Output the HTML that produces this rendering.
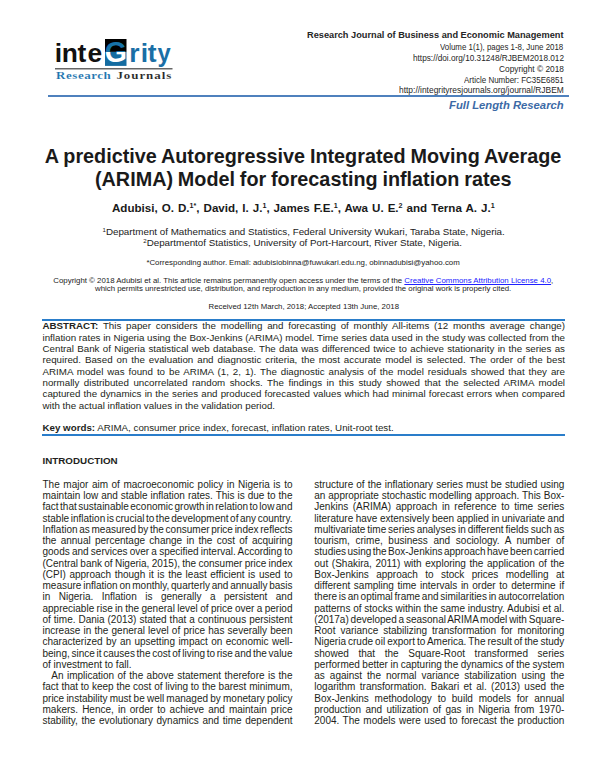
<!DOCTYPE html>
<html><head><meta charset="utf-8"><title>ARIMA inflation paper</title>
<style>
html,body{margin:0;padding:0;background:#fff;}
body{width:600px;height:776px;position:relative;overflow:hidden;font-family:"Liberation Sans", sans-serif;}
.l{position:absolute;white-space:nowrap;line-height:1;}
.l sup{font-size:0.62em;line-height:0;vertical-align:0.5em;}
.lk{color:#2020ff;text-decoration:underline;}
</style></head><body>
<div class="l" style="left:307.00px;top:30.44px;font-size:9.4px;color:#262626;font-weight:bold;width:256.50px;transform:scaleX(0.9827);transform-origin:0 0;">Research Journal of Business and Economic Management</div>
<div class="l" style="left:440.30px;top:43.02px;font-size:8.6px;color:#262626;width:123.20px;transform:scaleX(0.9177);transform-origin:0 0;">Volume 1(1), pages 1-8, June 2018</div>
<div class="l" style="left:412.50px;top:53.52px;font-size:8.6px;color:#262626;width:151.00px;transform:scaleX(0.9577);transform-origin:0 0;">https://doi.org/10.31248/RJBEM2018.012</div>
<div class="l" style="left:498.50px;top:64.62px;font-size:8.6px;color:#262626;width:65.00px;transform:scaleX(0.9699);transform-origin:0 0;">Copyright &copy; 2018</div>
<div class="l" style="left:463.70px;top:75.62px;font-size:8.6px;color:#262626;width:99.80px;transform:scaleX(0.9286);transform-origin:0 0;">Article Number: FC35E6851</div>
<div class="l" style="left:398.70px;top:85.82px;font-size:8.6px;color:#262626;width:164.80px;transform:scaleX(0.9801);transform-origin:0 0;">http://integrityresjournals.org/journal/RJBEM</div>
<div style="position:absolute;left:47.5px;top:95.2px;width:521px;height:1.5px;background:#4f81bd"></div>
<div class="l" style="left:449.30px;top:99.52px;font-size:11.2px;color:#3c6aa6;font-weight:bold;font-style:italic;width:114.70px;transform:scaleX(1.0082);transform-origin:0 0;">Full Length Research</div>
<div class="l" style="left:44.80px;top:147.24px;font-size:19.8px;color:#1a1a1a;font-weight:bold;width:516.50px;text-align:justify;text-align-last:justify;word-spacing:-0.604px;">A predictive Autoregressive Integrated Moving Average</div>
<div class="l" style="left:95.00px;top:169.84px;font-size:19.8px;color:#1a1a1a;font-weight:bold;width:416.50px;text-align:justify;text-align-last:justify;word-spacing:-0.726px;">(ARIMA) Model for forecasting inflation rates</div>
<div class="l" style="left:112.00px;top:202.18px;font-size:11.6px;color:#1a1a1a;font-weight:bold;width:382.70px;text-align:justify;text-align-last:justify;">Adubisi, O. D.<sup>1*</sup>, David, I. J.<sup>1</sup>, James F.E.<sup>1</sup>, Awa U. E.<sup>2</sup> and Terna A. J.<sup>1</sup></div>
<div class="l" style="left:102.50px;top:227.20px;font-size:9.8px;color:#222;width:402.25px;text-align:justify;text-align-last:justify;word-spacing:-0.019px;"><sup>1</sup>Department of Mathematics and Statistics, Federal University Wukari, Taraba State, Nigeria.</div>
<div class="l" style="left:143.25px;top:238.00px;font-size:9.8px;color:#222;width:318.75px;text-align:justify;text-align-last:justify;word-spacing:-0.025px;"><sup>2</sup>Departmentof Statistics, University of Port-Harcourt, River State, Nigeria.</div>
<div class="l" style="left:146.40px;top:258.85px;font-size:7.86px;color:#222;width:313.35px;text-align:justify;text-align-last:justify;word-spacing:-0.222px;">*Corresponding author. Email: adubisiobinna@fuwukari.edu.ng, obinnadubisi@yahoo.com</div>
<div class="l" style="left:53.30px;top:276.64px;font-size:7.87px;color:#222;width:500.00px;text-align:justify;text-align-last:justify;word-spacing:-0.023px;">Copyright &copy; 2018 Adubisi et al. This article remains permanently open access under the terms of the <span class="lk">Creative Commons Attribution License 4.0</span>,</div>
<div class="l" style="left:95.00px;top:285.07px;font-size:7.83px;color:#222;width:416.30px;text-align:justify;text-align-last:justify;word-spacing:-0.053px;">which permits unrestricted use, distribution, and reproduction in any medium, provided the original work is properly cited.</div>
<div class="l" style="left:208.50px;top:302.98px;font-size:7.82px;color:#222;width:190.50px;text-align:justify;text-align-last:justify;">Received 12th March, 2018; Accepted 13th June, 2018</div>
<div style="position:absolute;left:42px;top:319.4px;width:523px;height:1.8px;background:#2a7dca"></div>
<div class="l" style="left:42.50px;top:321.25px;font-size:9.75px;color:#231f20;width:522.50px;text-align:justify;text-align-last:justify;"><b>ABSTRACT:</b> This paper considers the modelling and forecasting of monthly All-items (12 months average change)</div>
<div class="l" style="left:42.50px;top:332.59px;font-size:9.75px;color:#231f20;width:522.50px;text-align:justify;text-align-last:justify;word-spacing:-0.011px;">inflation rates in Nigeria using the Box-Jenkins (ARIMA) model. Time series data used in the study was collected from the</div>
<div class="l" style="left:42.50px;top:343.93px;font-size:9.75px;color:#231f20;width:522.50px;text-align:justify;text-align-last:justify;">Central Bank of Nigeria statistical web database. The data was differenced twice to achieve stationarity in the series as</div>
<div class="l" style="left:42.50px;top:355.27px;font-size:9.75px;color:#231f20;width:522.50px;text-align:justify;text-align-last:justify;">required. Based on the evaluation and diagnostic criteria, the most accurate model is selected. The order of the best</div>
<div class="l" style="left:42.50px;top:366.61px;font-size:9.75px;color:#231f20;width:522.50px;text-align:justify;text-align-last:justify;">ARIMA model was found to be ARIMA (1, 2, 1). The diagnostic analysis of the model residuals showed that they are</div>
<div class="l" style="left:42.50px;top:377.95px;font-size:9.75px;color:#231f20;width:522.50px;text-align:justify;text-align-last:justify;">normally distributed uncorrelated random shocks. The findings in this study showed that the selected ARIMA model</div>
<div class="l" style="left:42.50px;top:389.29px;font-size:9.75px;color:#231f20;width:522.50px;text-align:justify;text-align-last:justify;">captured the dynamics in the series and produced forecasted values which had minimal forecast errors when compared</div>
<div class="l" style="left:42.50px;top:400.63px;font-size:9.75px;color:#231f20;">with the actual inflation values in the validation period.</div>
<div class="l" style="left:42.50px;top:422.95px;font-size:9.75px;color:#231f20;"><b>Key words:</b> ARIMA, consumer price index, forecast, inflation rates, Unit-root test.</div>
<div style="position:absolute;left:42px;top:434.4px;width:523px;height:1.9px;background:#2a7dca"></div>
<div class="l" style="left:42.50px;top:455.70px;font-size:9.8px;color:#231f20;font-weight:bold;">INTRODUCTION</div>
<div class="l" style="left:42.50px;top:479.94px;font-size:10px;color:#231f20;width:250.00px;text-align:justify;text-align-last:justify;">The major aim of macroeconomic policy in Nigeria is to</div>
<div class="l" style="left:42.50px;top:491.19px;font-size:10px;color:#231f20;width:250.00px;text-align:justify;text-align-last:justify;">maintain low and stable inflation rates. This is due to the</div>
<div class="l" style="left:42.50px;top:502.44px;font-size:10px;color:#231f20;width:250.00px;text-align:justify;text-align-last:justify;word-spacing:-1.348px;">fact that sustainable economic growth in relation to low and</div>
<div class="l" style="left:42.50px;top:513.68px;font-size:10px;color:#231f20;width:250.00px;text-align:justify;text-align-last:justify;word-spacing:-1.264px;">stable inflation is crucial to the development of any country.</div>
<div class="l" style="left:42.50px;top:524.93px;font-size:10px;color:#231f20;width:250.00px;text-align:justify;text-align-last:justify;word-spacing:-1.096px;">Inflation as measured by the consumer price index reflects</div>
<div class="l" style="left:42.50px;top:536.18px;font-size:10px;color:#231f20;width:250.00px;text-align:justify;text-align-last:justify;">the annual percentage change in the cost of acquiring</div>
<div class="l" style="left:42.50px;top:547.43px;font-size:10px;color:#231f20;width:250.00px;text-align:justify;text-align-last:justify;word-spacing:-0.612px;">goods and services over a specified interval. According to</div>
<div class="l" style="left:42.50px;top:558.68px;font-size:10px;color:#231f20;width:250.00px;text-align:justify;text-align-last:justify;word-spacing:-0.541px;">(Central bank of Nigeria, 2015), the consumer price index</div>
<div class="l" style="left:42.50px;top:569.93px;font-size:10px;color:#231f20;width:250.00px;text-align:justify;text-align-last:justify;">(CPI) approach though it is the least efficient is used to</div>
<div class="l" style="left:42.50px;top:581.18px;font-size:10px;color:#231f20;width:250.00px;text-align:justify;text-align-last:justify;word-spacing:-1.070px;">measure inflation on monthly, quarterly and annually basis</div>
<div class="l" style="left:42.50px;top:592.43px;font-size:10px;color:#231f20;width:250.00px;text-align:justify;text-align-last:justify;">in Nigeria. Inflation is generally a persistent and</div>
<div class="l" style="left:42.50px;top:603.68px;font-size:10px;color:#231f20;width:250.00px;text-align:justify;text-align-last:justify;word-spacing:-0.435px;">appreciable rise in the general level of price over a period</div>
<div class="l" style="left:42.50px;top:614.93px;font-size:10px;color:#231f20;width:250.00px;text-align:justify;text-align-last:justify;">of time. Dania (2013) stated that a continuous persistent</div>
<div class="l" style="left:42.50px;top:626.18px;font-size:10px;color:#231f20;width:250.00px;text-align:justify;text-align-last:justify;">increase in the general level of price has severally been</div>
<div class="l" style="left:42.50px;top:637.43px;font-size:10px;color:#231f20;width:250.00px;text-align:justify;text-align-last:justify;">characterized by an upsetting impact on economic well-</div>
<div class="l" style="left:42.50px;top:648.68px;font-size:10px;color:#231f20;width:250.00px;text-align:justify;text-align-last:justify;word-spacing:-1.103px;">being, since it causes the cost of living to rise and the value</div>
<div class="l" style="left:42.50px;top:659.93px;font-size:10px;color:#231f20;">of investment to fall.</div>
<div class="l" style="left:51.30px;top:671.18px;font-size:10px;color:#231f20;width:241.20px;text-align:justify;text-align-last:justify;">An implication of the above statement therefore is the</div>
<div class="l" style="left:42.50px;top:682.43px;font-size:10px;color:#231f20;width:250.00px;text-align:justify;text-align-last:justify;word-spacing:-0.039px;">fact that to keep the cost of living to the barest minimum,</div>
<div class="l" style="left:42.50px;top:693.68px;font-size:10px;color:#231f20;width:250.00px;text-align:justify;text-align-last:justify;word-spacing:-0.608px;">price instability must be well managed by monetary policy</div>
<div class="l" style="left:42.50px;top:704.93px;font-size:10px;color:#231f20;width:250.00px;text-align:justify;text-align-last:justify;">makers. Hence, in order to achieve and maintain price</div>
<div class="l" style="left:42.50px;top:716.18px;font-size:10px;color:#231f20;width:250.00px;text-align:justify;text-align-last:justify;">stability, the evolutionary dynamics and time dependent</div>
<div class="l" style="left:314.30px;top:479.94px;font-size:10px;color:#231f20;width:250.00px;text-align:justify;text-align-last:justify;">structure of the inflationary series must be studied using</div>
<div class="l" style="left:314.30px;top:491.19px;font-size:10px;color:#231f20;width:250.00px;text-align:justify;text-align-last:justify;">an appropriate stochastic modelling approach. This Box-</div>
<div class="l" style="left:314.30px;top:502.44px;font-size:10px;color:#231f20;width:250.00px;text-align:justify;text-align-last:justify;">Jenkins (ARIMA) approach in reference to time series</div>
<div class="l" style="left:314.30px;top:513.68px;font-size:10px;color:#231f20;width:250.00px;text-align:justify;text-align-last:justify;word-spacing:-0.306px;">literature have extensively been applied in univariate and</div>
<div class="l" style="left:314.30px;top:524.93px;font-size:10px;color:#231f20;width:250.00px;text-align:justify;text-align-last:justify;word-spacing:-0.932px;">multivariate time series analyses in different fields such as</div>
<div class="l" style="left:314.30px;top:536.18px;font-size:10px;color:#231f20;width:250.00px;text-align:justify;text-align-last:justify;">tourism, crime, business and sociology. A number of</div>
<div class="l" style="left:314.30px;top:547.43px;font-size:10px;color:#231f20;width:250.00px;text-align:justify;text-align-last:justify;word-spacing:-1.416px;">studies using the Box-Jenkins approach have been carried</div>
<div class="l" style="left:314.30px;top:558.68px;font-size:10px;color:#231f20;width:250.00px;text-align:justify;text-align-last:justify;">out (Shakira, 2011) with exploring the application of the</div>
<div class="l" style="left:314.30px;top:569.93px;font-size:10px;color:#231f20;width:250.00px;text-align:justify;text-align-last:justify;">Box-Jenkins approach to stock prices modelling at</div>
<div class="l" style="left:314.30px;top:581.18px;font-size:10px;color:#231f20;width:250.00px;text-align:justify;text-align-last:justify;">different sampling time intervals in order to determine if</div>
<div class="l" style="left:314.30px;top:592.43px;font-size:10px;color:#231f20;width:250.00px;text-align:justify;text-align-last:justify;word-spacing:-1.094px;">there is an optimal frame and similarities in autocorrelation</div>
<div class="l" style="left:314.30px;top:603.68px;font-size:10px;color:#231f20;width:250.00px;text-align:justify;text-align-last:justify;word-spacing:-0.026px;">patterns of stocks within the same industry. Adubisi et al.</div>
<div class="l" style="left:314.30px;top:614.93px;font-size:10px;color:#231f20;width:250.00px;text-align:justify;text-align-last:justify;word-spacing:-1.018px;">(2017a) developed a seasonal ARIMA model with Square-</div>
<div class="l" style="left:314.30px;top:626.18px;font-size:10px;color:#231f20;width:250.00px;text-align:justify;text-align-last:justify;">Root variance stabilizing transformation for monitoring</div>
<div class="l" style="left:314.30px;top:637.43px;font-size:10px;color:#231f20;width:250.00px;text-align:justify;text-align-last:justify;word-spacing:-0.747px;">Nigeria crude oil export to America. The result of the study</div>
<div class="l" style="left:314.30px;top:648.68px;font-size:10px;color:#231f20;width:250.00px;text-align:justify;text-align-last:justify;">showed that the Square-Root transformed series</div>
<div class="l" style="left:314.30px;top:659.93px;font-size:10px;color:#231f20;width:250.00px;text-align:justify;text-align-last:justify;word-spacing:-0.330px;">performed better in capturing the dynamics of the system</div>
<div class="l" style="left:314.30px;top:671.18px;font-size:10px;color:#231f20;width:250.00px;text-align:justify;text-align-last:justify;">as against the normal variance stabilization using the</div>
<div class="l" style="left:314.30px;top:682.43px;font-size:10px;color:#231f20;width:250.00px;text-align:justify;text-align-last:justify;">logarithm transformation. Bakari et al. (2013) used the</div>
<div class="l" style="left:314.30px;top:693.68px;font-size:10px;color:#231f20;width:250.00px;text-align:justify;text-align-last:justify;">Box-Jenkins methodology to build models for annual</div>
<div class="l" style="left:314.30px;top:704.93px;font-size:10px;color:#231f20;width:250.00px;text-align:justify;text-align-last:justify;">production and utilization of gas in Nigeria from 1970-</div>
<div class="l" style="left:314.30px;top:716.18px;font-size:10px;color:#231f20;width:250.00px;text-align:justify;text-align-last:justify;">2004. The models were used to forecast the production</div>
<svg style="position:absolute;left:0;top:0" width="200" height="90" viewBox="0 0 200 90">
<defs><clipPath id="ct"><rect x="100" y="30" width="40" height="21.9"/></clipPath>
<clipPath id="cb"><rect x="100" y="51.9" width="40" height="20"/></clipPath></defs>
<g font-family="Liberation Sans" font-weight="bold" font-size="26.4">
<text y="62.1" fill="#111"><tspan x="54.66">i</tspan><tspan x="61.86">n</tspan><tspan x="77.43">t</tspan><tspan x="87.57">e</tspan></text>
<text y="62.1" fill="#1a6fa6"><tspan x="129.26">r</tspan><tspan x="140.86">i</tspan><tspan x="147.68">t</tspan></text>
<text transform="translate(157.5,62.1) scale(0.9,1)" x="0" y="0" fill="#1a6fa6">y</text>
</g>
<rect x="105" y="39" width="21.5" height="12.9" fill="#000"/>
<rect x="105" y="51.9" width="21.5" height="14" fill="#146ca1"/>
<g clip-path="url(#ct)"><text transform="translate(104.8,62.3) scale(0.97,1)" x="0" y="0" font-family="Liberation Sans" font-weight="bold" font-size="29.4" fill="#1772a8">G</text></g>
<g clip-path="url(#cb)"><text transform="translate(104.8,62.3) scale(0.97,1)" x="0" y="0" font-family="Liberation Sans" font-weight="bold" font-size="29.4" fill="#fff">G</text></g>
<rect x="55" y="68" width="117.5" height="1.5" fill="#666"/>
<text transform="translate(56.1,79.2) scale(1.18,1)" x="0" y="0" font-family="Liberation Serif" font-weight="bold" font-size="11" fill="#1a72ae" stroke="#fff" stroke-width="0.1" textLength="46.4" lengthAdjust="spacing">Research</text>
<text transform="translate(116.4,79.2) scale(1.18,1)" x="0" y="0" font-family="Liberation Serif" font-weight="bold" font-size="11" fill="#222" stroke="#fff" stroke-width="0.1" textLength="46.5" lengthAdjust="spacing">Journals</text>
</svg>
</body></html>
